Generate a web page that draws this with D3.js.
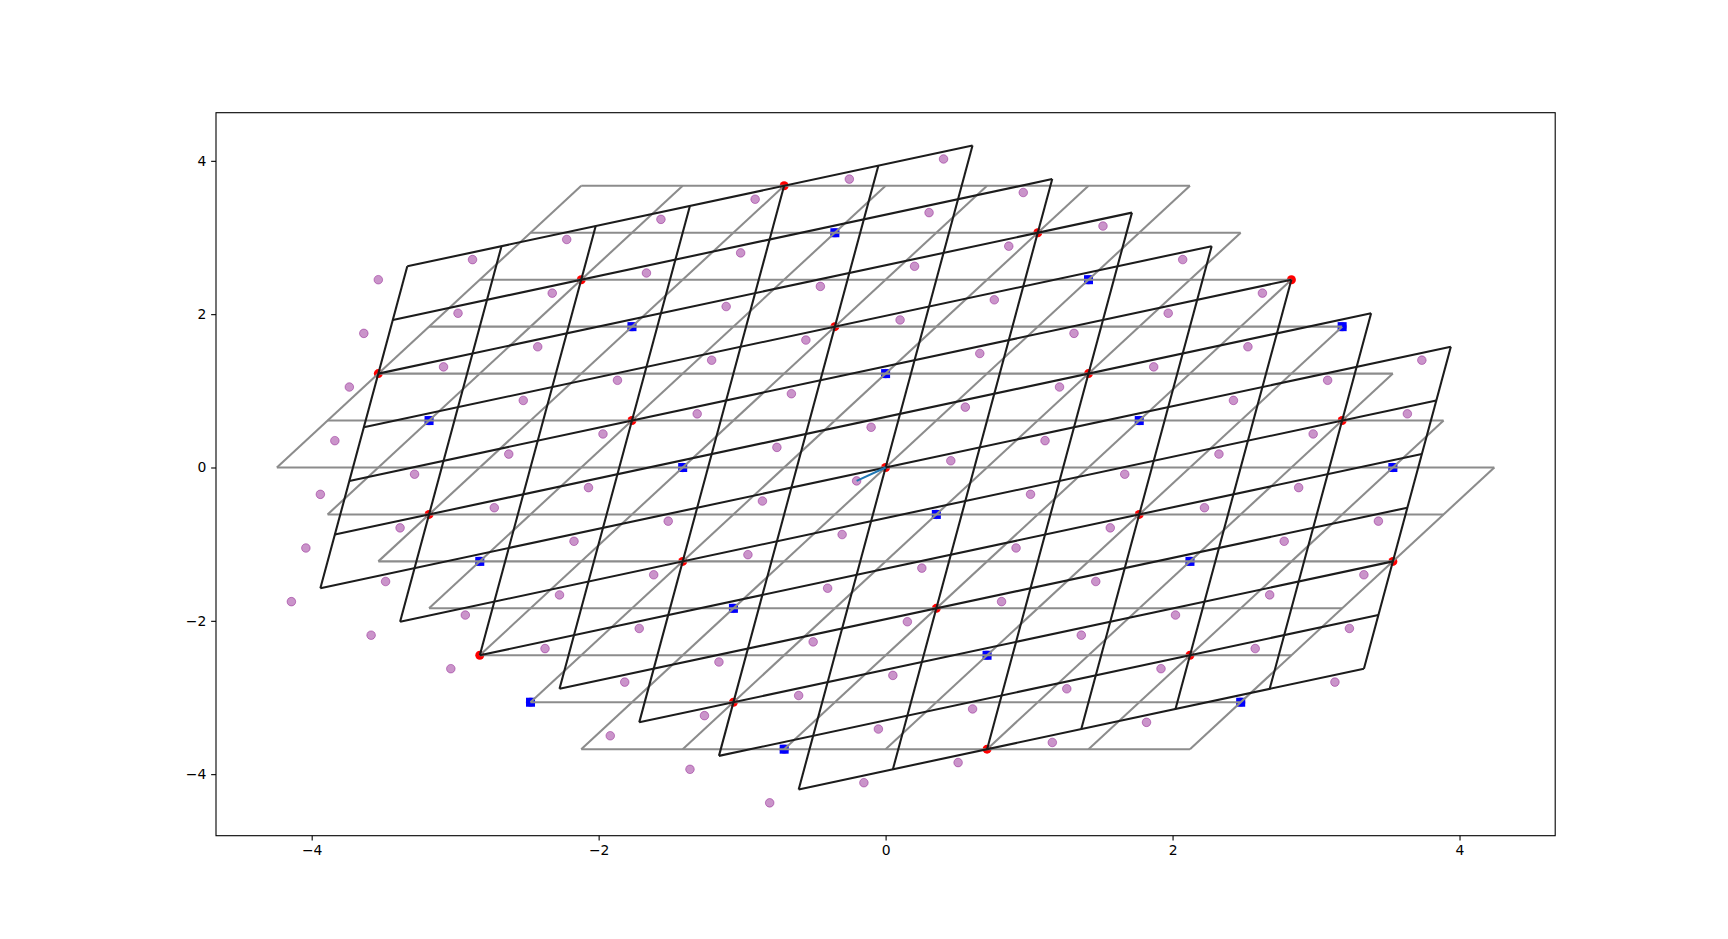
<!DOCTYPE html>
<html>
<head>
<meta charset="utf-8">
<script src="https://cdn.jsdelivr.net/npm/d3@7"></script>
<style>
  body { margin: 0; background: #fff; }
  svg text { font-family: "DejaVu Sans", sans-serif; font-size: 13.9px; fill: #000; }
</style>
</head>
<body>
<svg id="chart" width="1728" height="939"></svg>
<script>
// lattice values
var spacing = 0.7071;          // nearest-neighbour distance of both lattices
var twistDeg = 21.79;          // rotation of the black lattice against the grey one
var shift = [-0.202, -0.175];  // offset of the purple points (blue segment)
var patch = 6;                 // hexagonal patch radius, in cells

// red dots: grey lattice sites shared with the black lattice (i, j)
var redSites = [[0,0],[3,-1],[6,-2],[-3,1],[-6,2],[1,2],[2,4],[-1,-2],[-2,-4],
  [4,1],[-2,3],[-5,4],[-1,5],[-4,6],[2,-3],[5,-4],[1,-5],[4,-6],[-4,-1]];
// blue squares: grey lattice sites shared with the shifted (purple) lattice
var blueSites = [[-3,5],[0,4],[-4,3],[3,3],[-1,2],[-5,1],[2,1],[-2,0],[5,0],
  [1,-1],[-3,-2],[4,-2],[0,-3],[3,-4],[-1,-5],[6,-5],[2,-6]];

var xTicks = [-4, -2, 0, 2, 4];
var yTicks = [-4, -2, 0, 2, 4];

var mLeft = 216, mRight = 1555.2, mTop = 112.7, mBottom = 835.7;

var svg = d3.select("#chart");

// basis vectors
function basis(deg) {
  var r = deg * Math.PI / 180;
  var a1 = [spacing * Math.cos(r), spacing * Math.sin(r)];
  var a2 = [spacing * Math.cos(r + Math.PI / 3), spacing * Math.sin(r + Math.PI / 3)];
  return function(i, j) { return [i * a1[0] + j * a2[0], i * a1[1] + j * a2[1]]; };
}
var grey = basis(0);
var black = basis(twistDeg);

// all sites in the hexagonal patch
var sites = [];
for (var j = -patch; j <= patch; j++)
  for (var i = Math.max(-patch, -patch - j); i <= Math.min(patch, patch - j); i++)
    sites.push([i, j]);

// line segments of a lattice: rows along a1, columns along a2
function segments(site) {
  var segs = [];
  for (var k = -patch; k <= patch; k++) {
    var lo = Math.max(-patch, -patch - k), hi = Math.min(patch, patch - k);
    segs.push([site(lo, k), site(hi, k)]);
    segs.push([site(k, lo), site(k, hi)]);
  }
  return segs;
}

var purple = sites.map(function(s) {
  var p = black(s[0], s[1]);
  return [p[0] + shift[0], p[1] + shift[1]];
});
var greyPts = sites.map(function(s) { return grey(s[0], s[1]); });

// matplotlib style 5% margins
var allPts = greyPts.concat(purple).concat(sites.map(function(s) { return black(s[0], s[1]); }));
var xr = d3.extent(allPts, function(d) { return d[0]; });
var yr = d3.extent(allPts, function(d) { return d[1]; });
var xm = (xr[1] - xr[0]) * 0.05, ym = (yr[1] - yr[0]) * 0.05;

var x = d3.scaleLinear().domain([xr[0] - xm, xr[1] + xm]).range([mLeft, mRight]);
var y = d3.scaleLinear().domain([yr[0] - ym, yr[1] + ym]).range([mBottom, mTop]);

var line = d3.line().x(function(d) { return x(d[0]); }).y(function(d) { return y(d[1]); });

var plot = svg.append("g");

// purple shifted lattice
plot.append("g")
  .selectAll("circle")
  .data(purple)
  .join("circle")
    .attr("cx", function(d) { return x(d[0]); })
    .attr("cy", function(d) { return y(d[1]); })
    .attr("r", 4.3)
    .attr("fill", "purple")
    .attr("fill-opacity", 0.42)
    .attr("stroke", "purple")
    .attr("stroke-opacity", 0.42)
    .attr("stroke-width", 1);

// red coincidence sites
plot.append("g")
  .selectAll("circle")
  .data(redSites)
  .join("circle")
    .attr("cx", function(d) { return x(grey(d[0], d[1])[0]); })
    .attr("cy", function(d) { return y(grey(d[0], d[1])[1]); })
    .attr("r", 4.5)
    .attr("fill", "#ff0000");

// blue squares
plot.append("g")
  .selectAll("rect")
  .data(blueSites)
  .join("rect")
    .attr("x", function(d) { return x(grey(d[0], d[1])[0]) - 4.5; })
    .attr("y", function(d) { return y(grey(d[0], d[1])[1]) - 4.5; })
    .attr("width", 9)
    .attr("height", 9)
    .attr("fill", "#0000ff");

// grey lattice
plot.append("g")
  .selectAll("path")
  .data(segments(grey))
  .join("path")
    .attr("d", line)
    .attr("fill", "none")
    .attr("stroke", "#8c8c8c")
    .attr("stroke-width", 2.08);

// black lattice
plot.append("g")
  .selectAll("path")
  .data(segments(black))
  .join("path")
    .attr("d", line)
    .attr("fill", "none")
    .attr("stroke", "#1c1c1c")
    .attr("stroke-width", 2.08);

// shift vector
plot.append("path")
  .datum([[0, 0], shift])
  .attr("d", line)
  .attr("fill", "none")
  .attr("stroke", "#1f77b4")
  .attr("stroke-width", 2.08);

// axes
function fmt(v) { return v < 0 ? "\u2212" + Math.abs(v) : String(v); }

var xAxis = svg.append("g")
  .attr("transform", "translate(0," + mBottom + ")")
  .call(d3.axisBottom(x).tickValues(xTicks).tickFormat(fmt).tickSize(4.86).tickPadding(4.86));
var yAxis = svg.append("g")
  .attr("transform", "translate(" + mLeft + ",0)")
  .call(d3.axisLeft(y).tickValues(yTicks).tickFormat(fmt).tickSize(4.86).tickPadding(4.86));
[xAxis, yAxis].forEach(function(a) {
  a.select(".domain").remove();
  a.selectAll("line").attr("stroke", "#000").attr("stroke-width", 1.1);
  a.selectAll("text").attr("font-family", null).attr("font-size", null);
});

svg.append("rect")
  .attr("x", mLeft).attr("y", mTop)
  .attr("width", mRight - mLeft).attr("height", mBottom - mTop)
  .attr("fill", "none").attr("stroke", "#000").attr("stroke-width", 1.1);
</script>
</body>
</html>
